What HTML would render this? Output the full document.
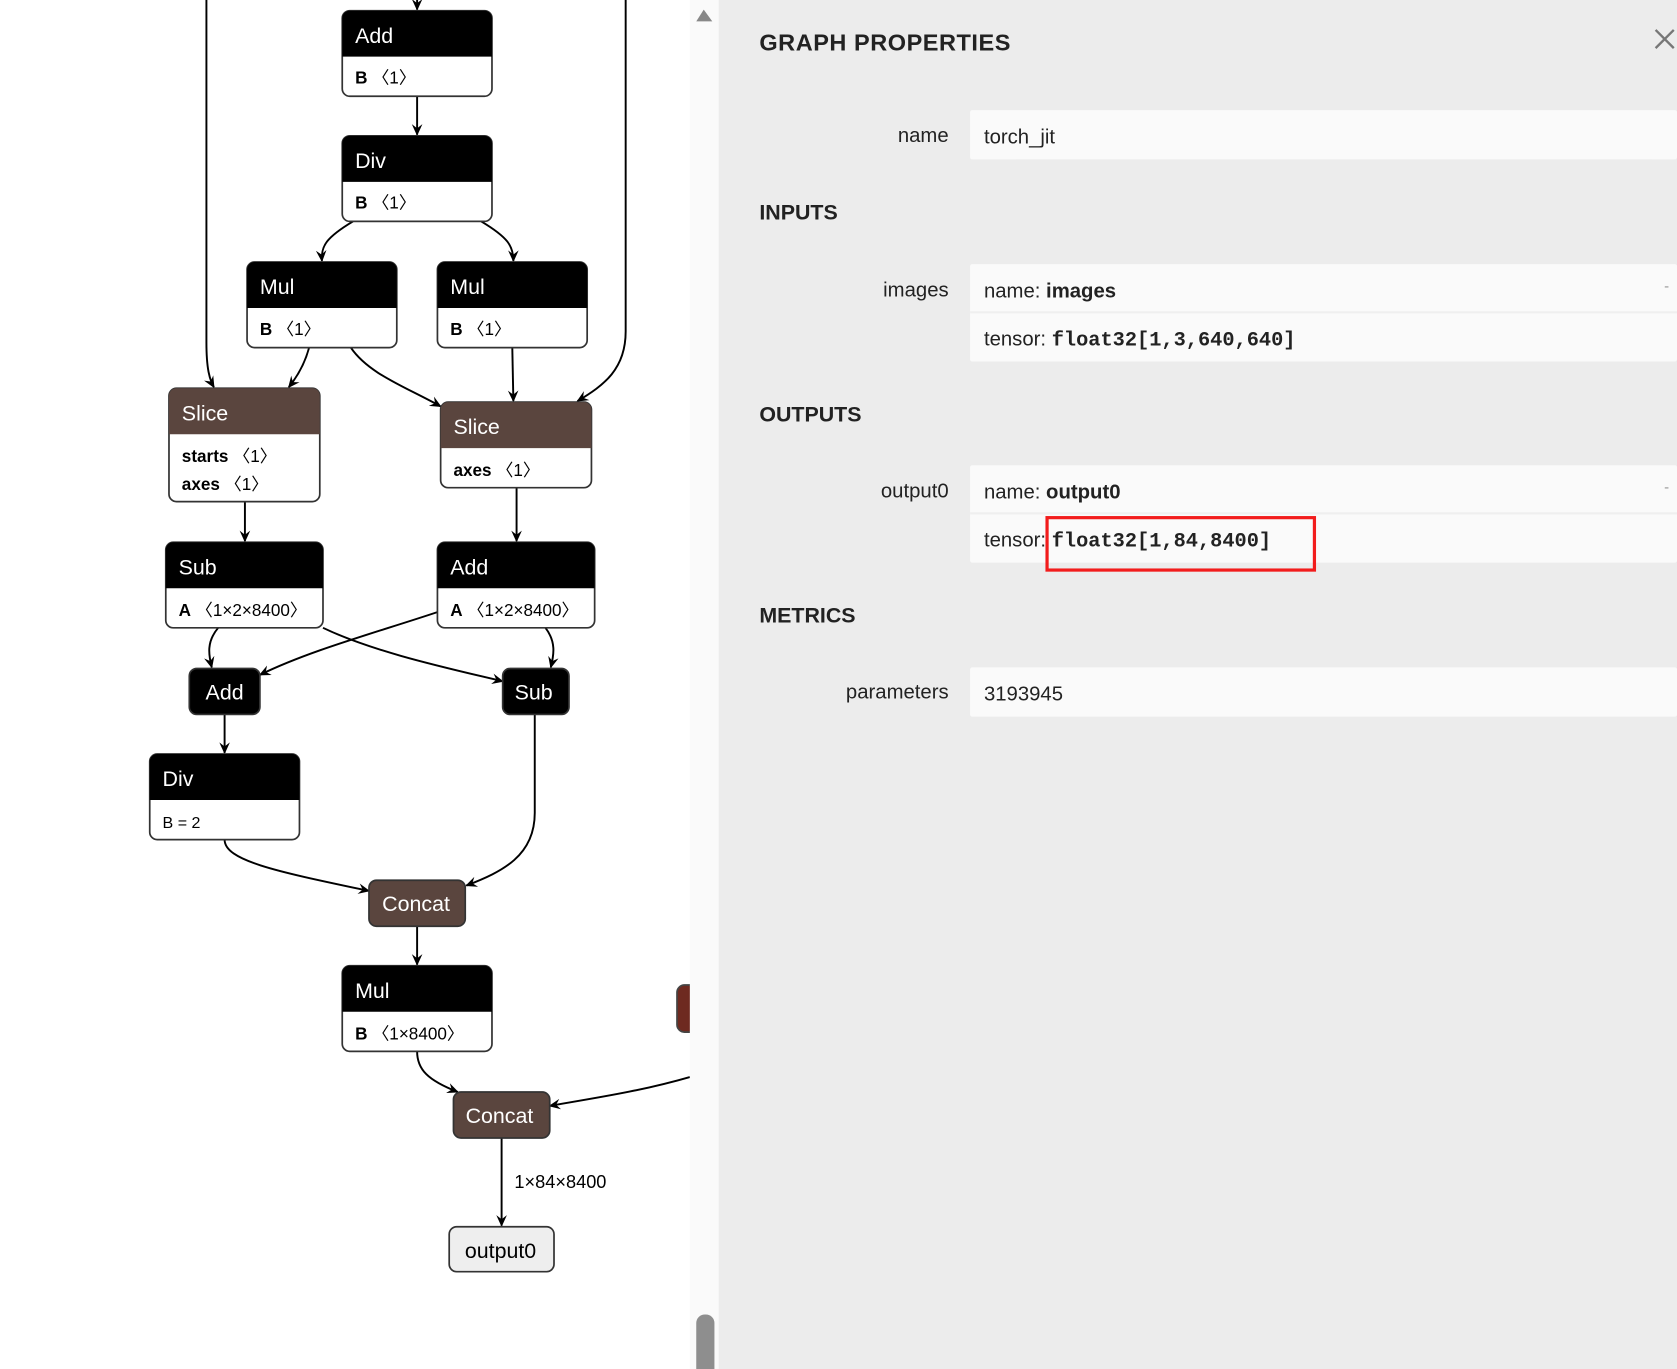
<!DOCTYPE html>
<html><head><meta charset="utf-8"><style>
html,body{margin:0;padding:0;background:#fff;overflow:hidden}
svg{display:block}
</style></head><body>
<svg width="1677" height="1369" viewBox="0 0 1568 1280" preserveAspectRatio="none" xmlns="http://www.w3.org/2000/svg" font-family="'Liberation Sans', sans-serif">
<defs>
<marker id="a" viewBox="0 0 10 10" refX="9" refY="5" markerWidth="11" markerHeight="11" orient="auto-start-reverse" markerUnits="userSpaceOnUse">
<path d="M0,0.5 L10,5 L0,9.5 L3.5,5 z" fill="#000"/></marker>
</defs>
<rect width="1568" height="1280" fill="#fff"/>
<g fill="none" stroke="#000" stroke-width="1.8" marker-end="url(#a)">
<path d="M390,0 L390,9"/>
<path d="M390,90 L390,126"/>
<path d="M330,207 C305,222 300,230 301,244"/>
<path d="M450,207 C475,222 480,230 480,244"/>
<path d="M193,0 L193,320 C193,345 196,355 200,362"/>
<path d="M585,0 L585,310 C585,345 565,360 540,375"/>
<path d="M289,325 C285,340 278,352 270,362"/>
<path d="M328,325 C345,350 380,362 412,380"/>
<path d="M479,325 L480,375"/>
<path d="M229,469 L229,506"/>
<path d="M483,456 L483,506"/>
<path d="M204,587 C193,600 195,612 198,624"/>
<path d="M410,572 C350,592 290,608 243,631"/>
<path d="M302,587 C350,610 420,625 470,637"/>
<path d="M510,587 C520,600 518,612 515,624"/>
<path d="M210,668 L210,704"/>
<path d="M210,785 C210,805 260,815 345,833"/>
<path d="M500,668 L500,760 C500,800 470,815 436,828"/>
<path d="M390,866 L390,902"/>
<path d="M390,983 C390,1000 400,1010 428,1021"/>
<path d="M645,1007 C600,1020 560,1026 514,1034"/>
<path d="M469,1064 L469,1146"/>
</g>
<g font-size="20">
<g>
<rect x="320" y="10" width="140" height="80" rx="7" fill="#fff" stroke="#333" stroke-width="1.6"/>
<path d="M320,53 V17 a7,7 0 0 1 7,-7 H453 a7,7 0 0 1 7,7 V53 z" fill="#000"/>
<text x="332" y="40" fill="#fff">Add</text>
<text x="332" y="78" font-size="16"><tspan font-weight="bold">B</tspan> 〈1〉</text>
</g>
<g>
<rect x="320" y="127" width="140" height="80" rx="7" fill="#fff" stroke="#333" stroke-width="1.6"/>
<path d="M320,170 V134 a7,7 0 0 1 7,-7 H453 a7,7 0 0 1 7,7 V170 z" fill="#000"/>
<text x="332" y="157" fill="#fff">Div</text>
<text x="332" y="195" font-size="16"><tspan font-weight="bold">B</tspan> 〈1〉</text>
</g>
<g>
<rect x="231" y="245" width="140" height="80" rx="7" fill="#fff" stroke="#333" stroke-width="1.6"/>
<path d="M231,288 V252 a7,7 0 0 1 7,-7 H364 a7,7 0 0 1 7,7 V288 z" fill="#000"/>
<text x="243" y="275" fill="#fff">Mul</text>
<text x="243" y="313" font-size="16"><tspan font-weight="bold">B</tspan> 〈1〉</text>
</g>
<g>
<rect x="409" y="245" width="140" height="80" rx="7" fill="#fff" stroke="#333" stroke-width="1.6"/>
<path d="M409,288 V252 a7,7 0 0 1 7,-7 H542 a7,7 0 0 1 7,7 V288 z" fill="#000"/>
<text x="421" y="275" fill="#fff">Mul</text>
<text x="421" y="313" font-size="16"><tspan font-weight="bold">B</tspan> 〈1〉</text>
</g>
<g>
<rect x="158" y="363" width="141" height="106" rx="7" fill="#fff" stroke="#333" stroke-width="1.6"/>
<path d="M158,406 V370 a7,7 0 0 1 7,-7 H292 a7,7 0 0 1 7,7 V406 z" fill="#5a453e"/>
<text x="170" y="393" fill="#fff">Slice</text>
<text x="170" y="432" font-size="16"><tspan font-weight="bold">starts</tspan> 〈1〉</text>
<text x="170" y="458" font-size="16"><tspan font-weight="bold">axes</tspan> 〈1〉</text>
</g>
<g>
<rect x="412" y="376" width="141" height="80" rx="7" fill="#fff" stroke="#333" stroke-width="1.6"/>
<path d="M412,419 V383 a7,7 0 0 1 7,-7 H546 a7,7 0 0 1 7,7 V419 z" fill="#5a453e"/>
<text x="424" y="406" fill="#fff">Slice</text>
<text x="424" y="445" font-size="16"><tspan font-weight="bold">axes</tspan> 〈1〉</text>
</g>
<g>
<rect x="155" y="507" width="147" height="80" rx="7" fill="#fff" stroke="#333" stroke-width="1.6"/>
<path d="M155,550 V514 a7,7 0 0 1 7,-7 H295 a7,7 0 0 1 7,7 V550 z" fill="#000"/>
<text x="167" y="537" fill="#fff">Sub</text>
<text x="167" y="576" font-size="16"><tspan font-weight="bold">A</tspan> 〈1×2×8400〉</text>
</g>
<g>
<rect x="409" y="507" width="147" height="80" rx="7" fill="#fff" stroke="#333" stroke-width="1.6"/>
<path d="M409,550 V514 a7,7 0 0 1 7,-7 H549 a7,7 0 0 1 7,7 V550 z" fill="#000"/>
<text x="421" y="537" fill="#fff">Add</text>
<text x="421" y="576" font-size="16"><tspan font-weight="bold">A</tspan> 〈1×2×8400〉</text>
</g>
<rect x="177" y="625" width="66" height="43" rx="7" fill="#000" stroke="#333" stroke-width="1.6"/>
<text x="210" y="654" fill="#fff" text-anchor="middle">Add</text>
<rect x="470" y="625" width="62" height="43" rx="7" fill="#000" stroke="#333" stroke-width="1.6"/>
<text x="499" y="654" fill="#fff" text-anchor="middle">Sub</text>
<g>
<rect x="140" y="705" width="140" height="80" rx="7" fill="#fff" stroke="#333" stroke-width="1.6"/>
<path d="M140,748 V712 a7,7 0 0 1 7,-7 H273 a7,7 0 0 1 7,7 V748 z" fill="#000"/>
<text x="152" y="735" fill="#fff">Div</text>
<text x="152" y="774" font-size="15">B = 2</text>
</g>
<rect x="345" y="823" width="90" height="43" rx="7" fill="#5a453e" stroke="#333" stroke-width="1.6"/>
<text x="389" y="852" fill="#fff" text-anchor="middle">Concat</text>
<g>
<rect x="320" y="903" width="140" height="80" rx="7" fill="#fff" stroke="#333" stroke-width="1.6"/>
<path d="M320,946 V910 a7,7 0 0 1 7,-7 H453 a7,7 0 0 1 7,7 V946 z" fill="#000"/>
<text x="332" y="933" fill="#fff">Mul</text>
<text x="332" y="972" font-size="16"><tspan font-weight="bold">B</tspan> 〈1×8400〉</text>
</g>
<rect x="424" y="1021" width="90" height="43" rx="7" fill="#5a453e" stroke="#333" stroke-width="1.6"/>
<text x="467" y="1050" fill="#fff" text-anchor="middle">Concat</text>
<text x="481" y="1111" font-size="17">1×84×8400</text>
<rect x="420" y="1147" width="98" height="42" rx="7" fill="#eee" stroke="#333" stroke-width="1.6"/>
<text x="468" y="1176" text-anchor="middle">output0</text>
<rect x="633" y="921" width="20" height="44" rx="7" fill="#6e2a20" stroke="#444" stroke-width="1.6"/>
</g>
<rect x="645" y="0" width="27" height="1280" fill="#fafafa"/>
<path d="M651,20 L658,9 L666,20 z" fill="#888"/>
<rect x="651" y="1229" width="17" height="60" rx="8" fill="#8e8e8e"/>
<rect x="672" y="0" width="896" height="1280" fill="#ececec"/>
<text x="710" y="47" font-size="22" font-weight="bold" fill="#222" letter-spacing="0.5">GRAPH PROPERTIES</text>
<path d="M1548,28 L1565,45 M1565,28 L1548,45" stroke="#777" stroke-width="2.2"/>
<g font-size="19" fill="#222">
<text x="887" y="133" text-anchor="end">name</text>
<rect x="907" y="103" width="661" height="46" rx="2" fill="#fafafa"/>
<text x="920" y="134">torch_jit</text>
<text x="710" y="205" font-weight="bold" font-size="20">INPUTS</text>
<text x="887" y="277" text-anchor="end">images</text>
<rect x="907" y="247" width="661" height="91" rx="2" fill="#fafafa"/>
<rect x="907" y="291" width="661" height="2" fill="#efefef"/>
<text x="920" y="278">name: <tspan font-weight="bold">images</tspan></text>
<text x="920" y="323">tensor: <tspan font-family="'Liberation Mono', monospace" font-weight="bold">float32[1,3,640,640]</tspan></text>
<text x="1556" y="272" fill="#999" font-size="14">-</text>
<text x="710" y="394" font-weight="bold" font-size="20">OUTPUTS</text>
<text x="887" y="465" text-anchor="end">output0</text>
<rect x="907" y="435" width="661" height="91" rx="2" fill="#fafafa"/>
<rect x="907" y="479" width="661" height="2" fill="#efefef"/>
<text x="920" y="466">name: <tspan font-weight="bold">output0</tspan></text>
<text x="920" y="511">tensor: <tspan font-family="'Liberation Mono', monospace" font-weight="bold">float32[1,84,8400]</tspan></text>
<text x="1556" y="460" fill="#999" font-size="14">-</text>
<rect x="979" y="484" width="250" height="49" fill="none" stroke="#f21c1c" stroke-width="3"/>
<text x="710" y="582" font-weight="bold" font-size="20">METRICS</text>
<text x="887" y="653" text-anchor="end">parameters</text>
<rect x="907" y="624" width="661" height="46" rx="2" fill="#fafafa"/>
<text x="920" y="655">3193945</text>
</g>
</svg>
</body></html>
